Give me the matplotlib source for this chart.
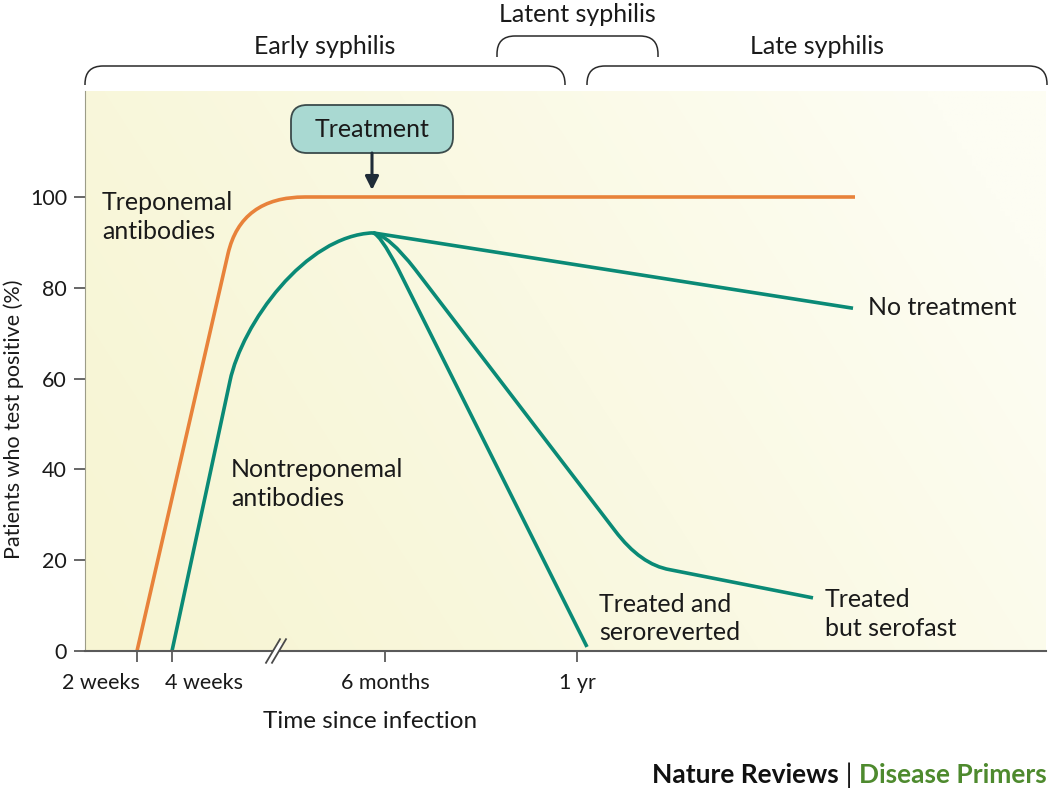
import numpy as np
import matplotlib
matplotlib.use('Agg')
import matplotlib.pyplot as plt
from matplotlib.path import Path
from matplotlib.patches import PathPatch, FancyBboxPatch
from matplotlib.transforms import Affine2D, blended_transform_factory, ScaledTranslation

plt.rcParams['font.family'] = ['Lato', 'DejaVu Sans']

# ---------------- data ----------------
# x = position along the (broken) time axis, y = % of patients testing positive
x_ticks = [137, 172, 385, 577]
x_tick_labels = ['2 weeks', '4 weeks', '6 months', '1 yr']
y_ticks = [0, 20, 40, 60, 80, 100]

# curves given as path vertices (M=move, L=line, Q=quadratic control/end, C=cubic control/end)
trep_x = [137, 228, 241, 305, 855]
trep_y = [0, 87.5, 100, 100, 100]
trep_codes = ['M', 'L', 'Q', 'Q', 'L']

nontrep_x = [172, 230, 242, 305, 373]
nontrep_y = [0, 59.5, 72, 91.5, 92.1]
nontrep_codes = ['M', 'L', 'C', 'C', 'C']

notreat_x = [373, 853]
notreat_y = [92.1, 75.5]
notreat_codes = ['M', 'L']

serorev_x = [373, 380, 398, 587]
serorev_y = [92.1, 91.8, 84.2, 0.9]
serorev_codes = ['M', 'Q', 'Q', 'L']

serofast_x = [373, 389, 415, 615, 640.6, 670, 813]
serofast_y = [92.1, 91.5, 84.1, 26.5, 19.0, 17.9, 11.7]
serofast_codes = ['M', 'Q', 'Q', 'L', 'Q', 'Q', 'L']

phases = ['Early syphilis', 'Latent syphilis', 'Late syphilis']
phase_start = [85, 497, 587]
phase_end = [565, 658, 1047]

treatment_x = 372

# ---------------- figure ----------------
W, H = 1050, 793
fig = plt.figure(figsize=(W / 100, H / 100), dpi=100)
fig.patch.set_facecolor('white')

PX_PER_PCT = 4.54
Y0_PX = 651
ax_left, ax_right, ax_top = 85, 1046, 91
ax = fig.add_axes([ax_left / W, 1 - Y0_PX / H, (ax_right - ax_left) / W, (Y0_PX - ax_top) / H])
ymax = (Y0_PX - ax_top) / PX_PER_PCT
ax.set_xlim(ax_left, ax_right)
ax.set_ylim(0, ymax)

# background gradient
nx, ny = 200, 100
gx = np.linspace(0, 1, nx)[None, :]
gy = np.linspace(0, 1, ny)[:, None]
t = np.clip(0.8 * gx + 0.3 * gy, 0, 1) ** 1.2
c0 = np.array([247, 245, 211]) / 255
c1 = np.array([253, 253, 243]) / 255
img = c0[None, None, :] * (1 - t[..., None]) + c1[None, None, :] * t[..., None]
ax.imshow(img, extent=[ax_left, ax_right, 0, ymax], origin='lower', aspect='auto',
          interpolation='bilinear', zorder=0)

code_map = {'M': Path.MOVETO, 'L': Path.LINETO, 'Q': Path.CURVE3, 'C': Path.CURVE4}
def draw_curve(xs, ys, codes, color):
    p = Path(np.column_stack([xs, ys]), [code_map[c] for c in codes])
    ax.add_patch(PathPatch(p, facecolor='none', edgecolor=color, lw=2.6,
                           capstyle='butt', joinstyle='round', zorder=3))

ORANGE = '#e8823a'
GREEN = '#0a8a76'
draw_curve(trep_x, trep_y, trep_codes, ORANGE)
draw_curve(nontrep_x, nontrep_y, nontrep_codes, GREEN)
draw_curve(notreat_x, notreat_y, notreat_codes, GREEN)
draw_curve(serorev_x, serorev_y, serorev_codes, GREEN)
draw_curve(serofast_x, serofast_y, serofast_codes, GREEN)

# axes styling
for s in ['top', 'right']:
    ax.spines[s].set_visible(False)
ax.spines['left'].set_color('#9c9c88')
ax.spines['left'].set_linewidth(0.8)
ax.spines['bottom'].set_color('#5a5a5a')
ax.spines['bottom'].set_linewidth(1.5)
ax.spines['bottom'].set_zorder(5)
ax.set_yticks(y_ticks)
ax.set_yticklabels([str(v) for v in y_ticks])
ax.set_xticks(x_ticks)
ax.set_xticklabels(x_tick_labels)
TFS = 15.5
ax.tick_params(axis='y', length=8, width=1.3, color='#5a5a5a', pad=5, labelsize=TFS, labelcolor='#1a1a1a')
ax.tick_params(axis='x', length=8, width=1.3, color='#5a5a5a', pad=8, labelsize=TFS, labelcolor='#1a1a1a')
xl = ax.get_xticklabels()
xl[0].set_horizontalalignment('right')
xl[0].set_transform(xl[0].get_transform() + ScaledTranslation(3 / 100, 0, fig.dpi_scale_trans))
xl[1].set_horizontalalignment('left')
xl[1].set_transform(xl[1].get_transform() + ScaledTranslation(-7 / 100, 0, fig.dpi_scale_trans))

# axis break marks
ax.plot([272, 280], [-1.3, 1.3], color='white', lw=3, clip_on=False, zorder=5.5)
for dx in (-3, 3):
    ax.plot([276 + dx - 7, 276 + dx + 7], [-2.6, 2.6], color='#4a4a4a', lw=1.3,
            clip_on=False, zorder=6)

# labels
def pct(py):
    return (Y0_PX - py) / PX_PER_PCT

FS = 18
labels = [
    (['Treponemal', 'antibodies'], 102, [210, 239]),
    (['Nontreponemal', 'antibodies'], 231, [477, 506]),
    (['No treatment'], 868, [315]),
    (['Treated and', 'seroreverted'], 599, [612, 640]),
    (['Treated', 'but serofast'], 825, [607, 636]),
]
for lines, x, bls in labels:
    for ln, b in zip(lines, bls):
        ax.text(x, pct(b), ln, fontsize=FS, ha='left', va='baseline', color='#1a1a1a', zorder=7)

# treatment box + arrow
box_w = 162
box = FancyBboxPatch((treatment_x - box_w / 2, pct(153)), box_w, pct(105) - pct(153),
                     boxstyle='round,pad=0,rounding_size=16',
                     mutation_aspect=1 / PX_PER_PCT,
                     facecolor='#a9d9d2', edgecolor='#3b4b4b', lw=1.3, zorder=8, clip_on=False)
ax.add_patch(box)
ax.text(treatment_x, pct(137), 'Treatment', fontsize=FS, ha='center', va='baseline',
        color='#1a1a1a', zorder=9)
ax.annotate('', xy=(treatment_x, pct(190)), xytext=(treatment_x, pct(153)),
            arrowprops=dict(arrowstyle='-|>', color='#1f2c38', lw=2.2, mutation_scale=20,
                            shrinkA=0, shrinkB=0), zorder=9)

# phase brackets (x in data, y in figure pixels from top)
to_fig = Affine2D().scale(1 / W, -1 / H).translate(0, 1) + fig.transFigure
btr = blended_transform_factory(ax.transData, to_fig)
bracket_levels = [(66, 85, 54), (36, 57, 22), (66, 85, 54)]
r = 18
for name, xs, xe, (ytop, yend, ytext) in zip(phases, phase_start, phase_end, bracket_levels):
    verts = [(xs, yend), (xs, ytop + r), (xs, ytop), (xs + r, ytop),
             (xe - r, ytop), (xe, ytop), (xe, ytop + r), (xe, yend)]
    codes = [Path.MOVETO, Path.LINETO, Path.CURVE3, Path.CURVE3,
             Path.LINETO, Path.CURVE3, Path.CURVE3, Path.LINETO]
    fig.add_artist(PathPatch(Path(verts, codes), facecolor='none', edgecolor='#2a2a2a',
                             lw=1.1, transform=btr))
    fig.text(0, 0, name, fontsize=FS, ha='center', va='baseline', color='#1a1a1a',
             transform=btr).set_position(((xs + xe) / 2, ytext))

# axis titles
fig.text(14 / W, 1 - 419 / H, 'Patients who test positive (%)', rotation=90,
         fontsize=15.5, ha='center', va='center', color='#1a1a1a')
fig.text(370 / W, 1 - 728 / H, 'Time since infection', fontsize=17.5, ha='center',
         va='baseline', color='#1a1a1a')

# footer
renderer = fig.canvas.get_renderer()
fy = 1 - 783 / H
x_right = 1047 / W
FFS = 19
t3 = fig.text(x_right, fy, 'Disease Primers', fontsize=FFS, fontweight='bold',
              color='#4e8a2e', ha='right', va='baseline')
w3 = t3.get_window_extent(renderer).width / W
t2 = fig.text(x_right - w3, fy, ' | ', fontsize=FFS, color='#1a1a1a', ha='right', va='baseline')
w2 = t2.get_window_extent(renderer).width / W
fig.text(x_right - w3 - w2, fy, 'Nature Reviews', fontsize=FFS, fontweight='bold',
         color='#111111', ha='right', va='baseline')

fig.savefig('out.png', dpi=100, facecolor='white')
